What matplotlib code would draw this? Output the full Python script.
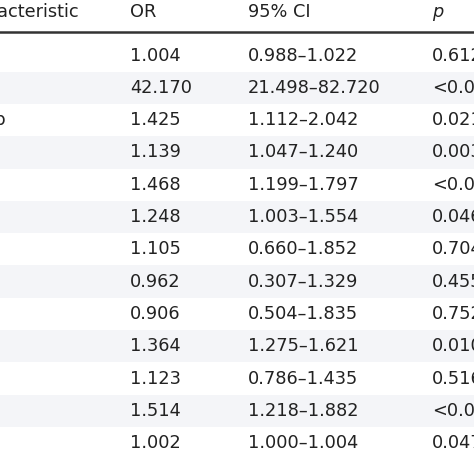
import matplotlib
matplotlib.use("Agg")
import matplotlib.pyplot as plt
from matplotlib.patches import Rectangle

header = ["Characteristic", "OR", "95% CI", "p"]
characteristics = ["Age", "Sex", "Smoking group", "BMI", "SBP", "DBP", "TC", "TG",
                   "LDL", "HDL", "FBG", "HbA1c", "Cr"]
odds_ratios = ["1.004", "42.170", "1.425", "1.139", "1.468", "1.248", "1.105",
               "0.962", "0.906", "1.364", "1.123", "1.514", "1.002"]
ci_values = ["0.988–1.022", "21.498–82.720", "1.112–2.042", "1.047–1.240",
             "1.199–1.797", "1.003–1.554", "0.660–1.852", "0.307–1.329",
             "0.504–1.835", "1.275–1.621", "0.786–1.435", "1.218–1.882",
             "1.000–1.004"]
p_values = ["0.612", "<0.001", "0.021", "0.003", "<0.001", "0.046", "0.704",
            "0.455", "0.752", "0.010", "0.516", "<0.001", "0.047"]

fig = plt.figure(figsize=(4.74, 4.74), dpi=100)
ax = fig.add_axes([0, 0, 1, 1])
ax.set_xlim(0, 474)
ax.set_ylim(474, 0)
ax.axis("off")

fs = 12.8
col = "#222222"
y0, dy = 55.5, 32.3
ax.text(79, 12, header[0], fontsize=fs, color=col, va="center", ha="right")
ax.text(130, 12, header[1], fontsize=fs, color=col, va="center", ha="left")
ax.text(248, 12, header[2], fontsize=fs, color=col, va="center", ha="left")
ax.text(432, 12, header[3], fontsize=fs, color=col, va="center", ha="left", style="italic")
ax.plot([0, 474], [32, 32], color="#333333", lw=1.8)

for i in range(len(odds_ratios)):
    y = y0 + i * dy
    if i % 2 == 1:
        ax.add_patch(Rectangle((0, y - dy / 2), 474, dy, color="#f4f5f8", lw=0, zorder=0))
    if i == 2:
        ax.text(6, y, characteristics[i], fontsize=fs, color=col, va="center", ha="right")
    else:
        ax.text(-120, y, characteristics[i], fontsize=fs, color=col, va="center", ha="left")
    ax.text(130, y, odds_ratios[i], fontsize=fs, color=col, va="center", ha="left")
    ax.text(248, y, ci_values[i], fontsize=fs, color=col, va="center", ha="left")
    ax.text(432, y, p_values[i], fontsize=fs, color=col, va="center", ha="left")

fig.savefig("out.png", dpi=100)
